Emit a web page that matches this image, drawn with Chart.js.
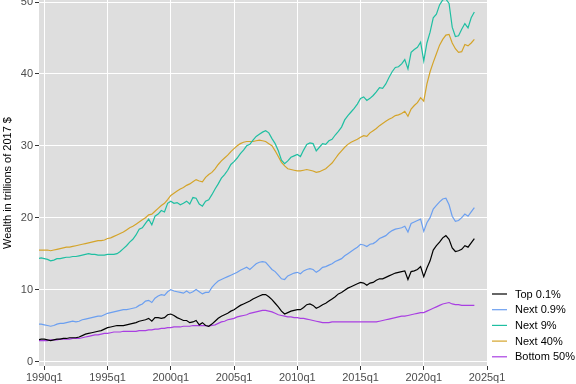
<!DOCTYPE html>
<html><head><meta charset="utf-8">
<script src="https://cdn.jsdelivr.net/npm/chart.js@4/dist/chart.umd.min.js"></script>
<style>html,body{margin:0;padding:0;background:#fff;overflow:hidden}</style>
</head><body>
<canvas id="c" width="576" height="384"></canvas>
<script>
// Quarterly categories 1989q3 .. 2024q1
const firstQuarter = [1989, 3];
const lastQuarter = [2024, 1];
const quarters = [];
for (let y = firstQuarter[0], q = firstQuarter[1]; y < lastQuarter[0] || (y === lastQuarter[0] && q <= lastQuarter[1]); ) {
  quarters.push(y + 'q' + q);
  q++; if (q > 4) { q = 1; y++; }
}

const seriesNames = ["Top 0.1%", "Next 0.9%", "Next 9%", "Next 40%", "Bottom 50%"];

const top01 = [
  3.0, 3.1,
  3.1, 3.0, 2.9, 3.0,
  3.1, 3.1, 3.2, 3.2,
  3.3, 3.3, 3.3, 3.4,
  3.6, 3.8, 3.9, 4.0,
  4.1, 4.2, 4.3, 4.5,
  4.7, 4.8, 4.9, 5.0,
  5.0, 5.0, 5.1, 5.2,
  5.3, 5.4, 5.6, 5.7,
  5.8, 6.0, 5.6, 6.1,
  6.1, 6.0, 6.1, 6.5,
  6.6, 6.4, 6.1, 5.9,
  5.7, 5.7, 5.4, 5.5,
  5.7, 5.1, 5.4, 5.0,
  4.9, 5.2, 5.6, 6.0,
  6.3, 6.5, 6.7, 7.0,
  7.2, 7.5, 7.8, 8.0,
  8.2, 8.4, 8.7, 8.9,
  9.1, 9.3, 9.3, 9.0,
  8.6, 8.1, 7.6, 7.0,
  6.6, 6.8, 7.0, 7.1,
  7.2, 7.2, 7.5, 7.9,
  8.0, 7.8, 7.4, 7.6,
  7.9, 8.1, 8.4, 8.7,
  9.0, 9.4, 9.6, 9.9,
  10.2, 10.4, 10.6, 10.8,
  11.0, 10.9, 10.6, 10.9,
  11.0, 11.3, 11.5, 11.5,
  11.7, 11.9, 12.1, 12.3,
  12.4, 12.5, 12.6, 11.4,
  12.5, 12.6, 12.8, 13.2,
  11.8, 13.0, 14.0, 15.5,
  16.1, 16.6, 17.2, 17.5,
  17.0, 15.8, 15.3, 15.4,
  15.6, 16.1, 15.9, 16.5,
  17.1
];

const next09 = [
  5.2, 5.2,
  5.1, 5.0, 4.9, 5.0,
  5.2, 5.3, 5.3, 5.4,
  5.5, 5.6, 5.5, 5.6,
  5.8, 5.9, 6.0, 6.1,
  6.2, 6.3, 6.3, 6.5,
  6.7, 6.8, 6.9, 7.0,
  7.1, 7.2, 7.2, 7.3,
  7.4, 7.5, 7.8, 8.0,
  8.4, 8.5, 8.2, 8.8,
  9.1, 9.3, 9.2, 9.7,
  10.0, 9.8, 9.7, 9.6,
  9.5, 9.8, 9.5, 9.7,
  10.0, 9.7, 9.4, 9.6,
  9.6, 10.3, 10.8, 11.2,
  11.4, 11.6, 11.8, 12.0,
  12.2, 12.4, 12.7, 12.9,
  13.1, 12.8, 13.2, 13.6,
  13.8, 13.9, 13.8, 13.3,
  12.8, 12.5, 12.0, 11.5,
  11.4, 11.9, 12.1, 12.3,
  12.4, 12.2, 12.6, 12.8,
  12.9, 12.8, 12.4, 12.7,
  13.1, 13.2, 13.4, 13.6,
  13.9, 14.1, 14.3, 14.7,
  15.0, 15.3, 15.6, 15.9,
  16.3, 16.2, 16.0, 16.3,
  16.4, 16.7, 17.1, 17.3,
  17.5, 17.9, 18.2, 18.4,
  18.5, 18.6, 18.8, 18.0,
  19.2, 19.4, 19.6, 19.8,
  18.1, 19.3, 20.0, 21.2,
  21.7, 22.2, 22.6, 22.7,
  21.8, 20.2, 19.5, 19.6,
  20.0, 20.5, 20.2, 20.8,
  21.4
];

const next9 = [
  14.3, 14.4,
  14.3, 14.2, 14.0, 14.1,
  14.3, 14.3, 14.4, 14.5,
  14.5, 14.6, 14.6, 14.7,
  14.8, 14.9, 15.0, 14.9,
  14.9, 14.8, 14.8, 14.8,
  14.9, 14.9, 14.9, 15.0,
  15.3, 15.7, 16.1, 16.6,
  17.0, 17.6, 18.4, 18.6,
  19.2, 19.8, 19.0, 20.2,
  20.5, 21.0, 20.8, 22.0,
  22.3, 22.0, 22.1, 21.8,
  22.0, 22.3, 21.9, 22.8,
  22.7, 21.9, 21.6, 22.3,
  22.5, 23.2, 24.0, 24.7,
  25.5, 26.0, 26.6, 27.4,
  27.8, 28.3, 28.9, 29.4,
  30.0, 30.2, 30.8, 31.3,
  31.6, 31.9, 32.1, 31.8,
  31.0, 30.3, 29.3, 28.0,
  27.5, 27.9, 28.4, 28.6,
  28.8, 28.5, 29.4, 30.2,
  30.4, 30.3, 29.3, 29.8,
  30.3, 30.2, 30.7, 30.9,
  31.5, 32.0, 32.6, 33.6,
  34.2, 34.7, 35.2, 35.8,
  36.6, 36.8, 36.3, 36.6,
  37.0, 37.5, 38.1, 38.0,
  38.6, 39.5, 40.3, 40.9,
  41.0, 41.4, 42.0, 40.7,
  43.0, 43.4, 43.7, 44.4,
  41.8, 44.3, 45.8, 47.8,
  48.3, 49.6, 50.3, 50.4,
  49.8, 46.5, 45.2, 45.3,
  46.2, 47.0, 46.4, 47.8,
  48.6
];

const next40 = [
  15.5, 15.5,
  15.5, 15.5, 15.4, 15.5,
  15.6, 15.7, 15.8, 15.9,
  15.9, 16.0, 16.1, 16.2,
  16.3, 16.4, 16.5, 16.6,
  16.7, 16.8, 16.8, 16.9,
  17.1, 17.2, 17.4, 17.6,
  17.8, 18.0, 18.3, 18.6,
  18.8, 19.1, 19.4, 19.7,
  20.0, 20.4, 20.5, 20.9,
  21.3, 21.7, 22.0, 22.5,
  23.1, 23.4, 23.7, 24.0,
  24.2, 24.5, 24.7, 25.0,
  25.3, 25.1, 25.0, 25.6,
  26.0, 26.3, 26.8, 27.4,
  27.9, 28.3, 28.7, 29.2,
  29.6, 30.0, 30.3, 30.5,
  30.6, 30.6, 30.6, 30.7,
  30.8, 30.7, 30.6, 30.3,
  30.0, 29.3, 28.5, 27.7,
  27.2, 26.8, 26.7, 26.6,
  26.5, 26.5, 26.6, 26.7,
  26.6, 26.5, 26.3, 26.4,
  26.6, 26.8, 27.2, 27.6,
  28.2, 28.8, 29.3, 29.8,
  30.2, 30.5, 30.7, 30.9,
  31.2, 31.4, 31.3, 31.8,
  32.1, 32.4, 32.8, 33.1,
  33.4, 33.7, 33.9, 34.2,
  34.3, 34.5, 34.8, 34.1,
  35.1, 35.6, 36.0, 36.7,
  36.2, 38.6, 40.3, 41.6,
  42.8, 44.0, 44.8, 45.4,
  45.5, 44.3, 43.5, 43.0,
  43.1, 44.1, 43.9, 44.3,
  44.8
];

const bottom50 = [
  2.9, 2.9,
  2.9, 2.9, 3.0, 3.0,
  3.0, 3.1, 3.1, 3.1,
  3.1, 3.2, 3.2, 3.2,
  3.3, 3.4, 3.5, 3.6,
  3.7, 3.7, 3.8, 3.9,
  3.9, 4.0, 4.1, 4.1,
  4.1, 4.2, 4.2, 4.2,
  4.2, 4.2, 4.3, 4.3,
  4.3, 4.4, 4.4, 4.5,
  4.5, 4.6, 4.6, 4.7,
  4.7, 4.8, 4.8, 4.8,
  4.9, 4.9, 4.9, 5.0,
  5.0, 5.0, 5.0, 5.0,
  4.9, 5.0, 5.1, 5.3,
  5.5, 5.6, 5.8, 5.9,
  6.0, 6.2, 6.3, 6.4,
  6.5, 6.7, 6.8, 6.9,
  7.0, 7.1, 7.1, 7.0,
  6.9, 6.7, 6.5, 6.4,
  6.3, 6.2, 6.2, 6.1,
  6.1, 6.0, 6.0, 5.9,
  5.8, 5.7, 5.6, 5.5,
  5.4, 5.4, 5.4, 5.5,
  5.5, 5.5, 5.5, 5.5,
  5.5, 5.5, 5.5, 5.5,
  5.5, 5.5, 5.5, 5.5,
  5.5, 5.5, 5.6, 5.7,
  5.8, 5.9, 6.0, 6.1,
  6.2, 6.3, 6.3, 6.4,
  6.5, 6.6, 6.7, 6.8,
  6.8, 7.0, 7.2, 7.4,
  7.6, 7.8, 8.0, 8.1,
  8.2, 8.0, 7.9, 7.9,
  7.8, 7.8, 7.8, 7.8,
  7.8
];

const xTickValues = [1990, 1995, 2000, 2005, 2010, 2015, 2020, 2025];
const xTickLabels = ["1990q1", "1995q1", "2000q1", "2005q1", "2010q1", "2015q1", "2020q1", "2025q1"];
const yTickValues = [0, 10, 20, 30, 40, 50];
const yTitle = "Wealth in trillions of 2017 $";

const colors = ["#000000", "#6b9ff0", "#1fbfa2", "#d4a42a", "#a93fe2"];
const allSeries = [top01, next09, next9, next40, bottom50];

function quarterToX(label) {
  const [y, q] = label.split('q').map(Number);
  return y + (q - 1) / 4;
}

const datasets = allSeries.map((vals, i) => ({
  label: seriesNames[i],
  data: vals.map((v, k) => ({ x: quarterToX(quarters[k]), y: v })),
  borderColor: colors[i],
  backgroundColor: colors[i],
  borderWidth: 1.2,
  pointRadius: 0,
  tension: 0,
  fill: false
}));

const FONT = '"Liberation Sans", Arial, Helvetica, sans-serif';

const panelBg = {
  id: 'panelBg',
  beforeDraw(chart) {
    const { ctx, chartArea: a } = chart;
    ctx.save();
    ctx.fillStyle = '#dedede';
    ctx.fillRect(a.left, a.top, a.right - a.left, a.bottom - a.top);
    ctx.restore();
  }
};

const sideLegend = {
  id: 'sideLegend',
  afterDraw(chart) {
    const { ctx } = chart;
    ctx.save();
    ctx.font = '11px ' + FONT;
    ctx.textBaseline = 'middle';
    ctx.textAlign = 'left';
    const x0 = 492, x1 = 507, tx = 515, y0 = 294, dy = 15.7;
    seriesNames.forEach((name, i) => {
      const y = y0 + i * dy;
      ctx.strokeStyle = colors[i];
      ctx.lineWidth = 1.2;
      ctx.beginPath();
      ctx.moveTo(x0, y);
      ctx.lineTo(x1, y);
      ctx.stroke();
      ctx.fillStyle = '#000';
      ctx.fillText(name, tx, y + 0.5);
    });
    ctx.restore();
  }
};

new Chart(document.getElementById('c'), {
  type: 'line',
  data: { datasets },
  plugins: [panelBg, sideLegend],
  options: {
    responsive: false,
    animation: false,
    devicePixelRatio: 1,
    layout: { padding: { left: 0, right: 89, top: 0, bottom: 0 } },
    plugins: { legend: { display: false }, tooltip: { enabled: false } },
    scales: {
      x: {
        type: 'linear',
        min: 1989.58,
        max: 2025.0,
        afterBuildTicks(scale) { scale.ticks = xTickValues.map(v => ({ value: v })); },
        afterFit(scale) { scale.height = 18; scale.paddingLeft = 0; scale.paddingRight = 0; },
        border: { display: false },
        grid: { color: '#ffffff', lineWidth: 1, drawTicks: true, tickLength: 4, tickColor: '#333333' },
        ticks: {
          autoSkip: false,
          maxRotation: 0,
          padding: 1,
          color: '#4d4d4d',
          font: { family: FONT, size: 11 },
          callback(v) { const i = xTickValues.indexOf(v); return i >= 0 ? xTickLabels[i] : ''; }
        }
      },
      y: {
        type: 'linear',
        min: -0.63,
        max: 50.28,
        afterBuildTicks(scale) { scale.ticks = yTickValues.map(v => ({ value: v })); },
        afterFit(scale) { scale.width = 39; scale.paddingTop = 0; scale.paddingBottom = 0; },
        border: { display: false },
        grid: { color: '#ffffff', lineWidth: 1, drawTicks: true, tickLength: 4, tickColor: '#333333' },
        ticks: {
          padding: 2,
          color: '#4d4d4d',
          font: { family: FONT, size: 11 }
        },
        title: {
          display: true,
          text: yTitle,
          color: '#000',
          font: { family: FONT, size: 11 },
          padding: { top: 1, bottom: 0 }
        }
      }
    }
  }
});
</script>
</body></html>
